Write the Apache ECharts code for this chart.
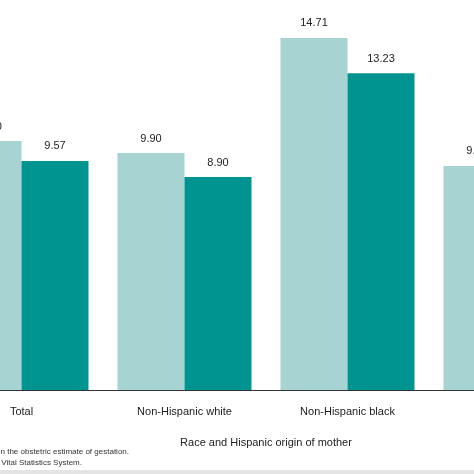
<html>
<head>
<script src="https://cdn.jsdelivr.net/npm/echarts@6/dist/echarts.min.js"></script>
<style>
body{margin:0;overflow:hidden;background:#fff;}
#main{position:absolute;left:-60px;top:0;width:652px;height:474px;}
</style>
</head>
<body>
<div id="main"></div>
<script>
var categories = ['Total', 'Non-Hispanic white', 'Non-Hispanic black', 'Hispanic'];
var values2007 = [10.40, 9.90, 14.71, 9.36];
var values2014 = [9.57, 8.90, 13.23, 8.70];

var myChart = echarts.init(document.getElementById('main'));
var option = {
    animation: false,
    grid: {left: 0, right: 0, top: 7, bottom: 84},
    xAxis: {
        type: 'category',
        data: categories,
        axisLine: {lineStyle: {color: '#333', width: 1}},
        axisTick: {show: false},
        axisLabel: {color: '#222', fontSize: 11, fontFamily: 'Liberation Sans', margin: 12},
        name: 'Race and Hispanic origin of mother',
        nameLocation: 'middle',
        nameGap: 43,
        nameTextStyle: {color: '#222', fontSize: 11, fontFamily: 'Liberation Sans'}
    },
    yAxis: {type: 'value', min: 0, max: 16, show: false},
    series: [
        {type: 'bar', data: values2007, barWidth: 67, barGap: '0%',
         itemStyle: {color: '#a8d3d3'},
         label: {show: true, position: 'top', formatter: function(p){return p.value.toFixed(2);}, color: '#222', fontSize: 11, fontFamily: 'Liberation Sans'}},
        {type: 'bar', data: values2014, barWidth: 67,
         itemStyle: {color: '#009490'},
         label: {show: true, position: 'top', formatter: function(p){return p.value.toFixed(2);}, color: '#222', fontSize: 11, fontFamily: 'Liberation Sans'}}
    ],
    graphic: [
        {type: 'text', right: 652 - 189, top: 445, style: {text: 'NOTE: Preterm is less than 37 completed weeks based on the obstetric estimate of gestation.', fill: '#333', font: '8px Liberation Sans', textAlign: 'right'}},
        {type: 'text', right: 652 - 142, top: 456, style: {text: 'SOURCE: NCHS, National Vital Statistics System.', fill: '#333', font: '8px Liberation Sans', textAlign: 'right'}},
        {type: 'rect', shape: {x: 0, y: 470, width: 652, height: 4}, style: {fill: '#e4e4e4'}}
    ]
};
myChart.setOption(option);
</script>
</body>
</html>
